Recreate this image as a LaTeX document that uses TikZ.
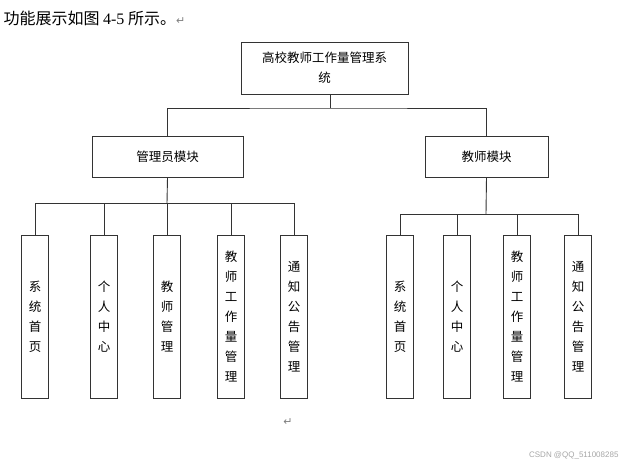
\documentclass[tikz,border=0pt]{standalone}
\usepackage{fontspec}
\setmainfont{Liberation Serif}
\newfontfamily\cjk{Noto Sans CJK SC}
\newfontfamily\dv{DejaVu Sans}
\begin{document}
\begin{tikzpicture}[x=1pt,y=-1pt,
  bx/.style={draw=black!80,line width=0.9pt,inner sep=0pt,font=\cjk\fontsize{12.5}{20}\selectfont,align=center},
  ln/.style={draw=black!80,line width=0.9pt}]
\useasboundingbox (0,0) rectangle (635,468);
\node[anchor=west,font=\cjk\fontsize{16}{18}\selectfont] (hd) at (0,18) {功能展示如图 {\fontspec{Liberation Serif}4-5} 所示。{\dv\color{gray}\fontsize{11}{11}\selectfont ↵}};
\node[bx,minimum width=167pt,minimum height=52pt] (top) at (324.5,68) {高校教师工作量管理系\\统};
\node[bx,minimum width=151pt,minimum height=41pt] (adm) at (167.5,156.5) {管理员模块};
\node[bx,minimum width=123pt,minimum height=41pt] (tea) at (486.5,156.5) {教师模块};
\coordinate (j1) at (330,108);
\draw[ln] (330,94) -- (j1);
\draw[ln] (adm.north) |- (j1) -| (tea.north);
\foreach \n/\x/\t in {a1/35/{系\\统\\首\\页},a2/104/{个\\人\\中\\心},a3/167/{教\\师\\管\\理},a4/231/{教\\师\\工\\作\\量\\管\\理},a5/294/{通\\知\\公\\告\\管\\理}}{
  \node[bx,minimum width=27pt,minimum height=163pt] (\n) at (\x,316.5) {\t};
}
\foreach \n/\x/\t in {b1/400/{系\\统\\首\\页},b2/457/{个\\人\\中\\心},b3/517/{教\\师\\工\\作\\量\\管\\理},b4/578/{通\\知\\公\\告\\管\\理}}{
  \node[bx,minimum width=27pt,minimum height=163pt] (\n) at (\x,316.5) {\t};
}
\coordinate (ja) at (167,203);
\draw[ln] (adm.south) -- (ja);
\draw[ln] (a1.north) |- (a5.north |- ja) -- (a5.north);
\foreach \n in {a2,a3,a4} \draw[ln] (\n.north) -- (\n.north |- ja);
\coordinate (jb) at (486,214);
\draw[ln] (tea.south) -- (jb);
\draw[ln] (b1.north) |- (b4.north |- jb) -- (b4.north);
\foreach \n in {b2,b3} \draw[ln] (\n.north) -- (\n.north |- jb);
\node[font=\dv\fontsize{11}{11}\selectfont,text=gray] (rt) at (288,422) {↵};
\node[font=\fontspec{Liberation Sans}\fontsize{8}{8}\selectfont,text=black!35,anchor=east] (wm) at (622,455) {CSDN @QQ\_511008285};
\end{tikzpicture}
\end{document}
